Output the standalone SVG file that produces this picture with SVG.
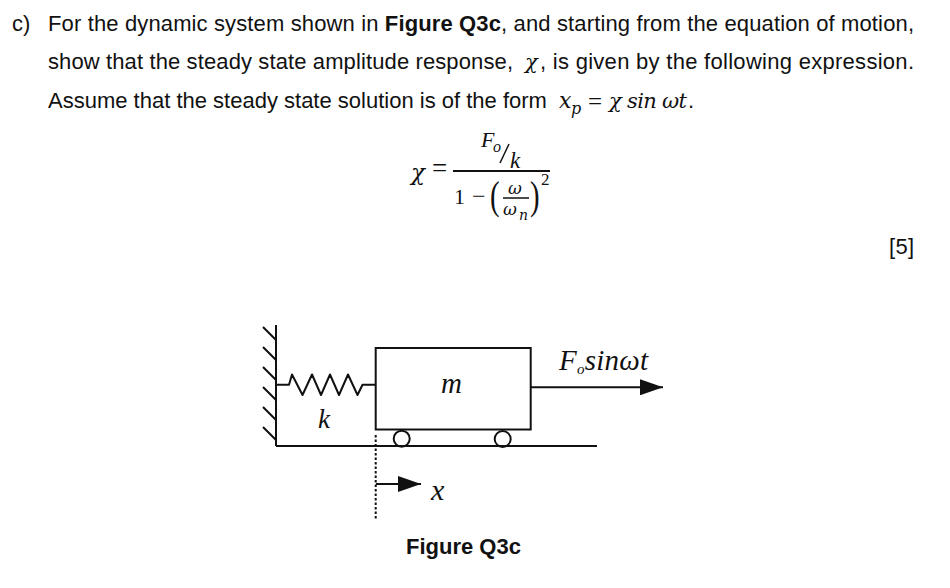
<svg xmlns="http://www.w3.org/2000/svg" width="950" height="588" viewBox="0 0 950 588">
<style>
.t{font-family:"Liberation Sans",Arial,sans-serif;font-size:22px;fill:#111}
.b{font-weight:bold}
.m{font-family:"DejaVu Serif","Liberation Serif",serif;font-style:italic;fill:#111}
.c{font-family:"Liberation Serif",serif;font-style:italic;fill:#111}
.u{font-family:"Liberation Serif",serif;fill:#111}
.l{stroke:#111;fill:none;stroke-width:2}
</style>
<defs>
<marker id="head" markerUnits="userSpaceOnUse" markerWidth="24" markerHeight="16" refX="23" refY="8" orient="auto"><path d="M0 0L23 8L0 16Z" fill="#111"/></marker>
</defs>
<rect width="950" height="588" fill="#fff"/>
<g id="question">
<text class="t" x="12" y="31">c)</text>
<text class="t" x="48" y="31" textLength="866" lengthAdjust="spacing">For the dynamic system shown in <tspan class="b">Figure Q3c</tspan>, and starting from the equation of motion,</text>
<text class="t" x="48" y="69" textLength="465" lengthAdjust="spacing">show that the steady state amplitude response,</text>
<text class="m" x="525" y="69" font-size="21">χ</text>
<text class="t" x="540" y="69" textLength="374" lengthAdjust="spacing">, is given by the following expression.</text>
<text class="t" x="48" y="108">Assume that the steady state solution is of the form</text>
<text class="m" x="559" y="108" font-size="22">x</text>
<text class="m" x="571" y="114" font-size="16">p</text>
<text class="u" x="588" y="110" font-size="25">=</text>
<text class="m" x="609" y="108" font-size="21" textLength="78">χ sin ωt</text>
<text class="t" x="688" y="108">.</text>
<text class="t" x="889" y="254" textLength="25">[5]</text>
</g>
<g id="formula">
<text class="m" x="411" y="180" font-size="23">χ</text>
<text class="u" x="432" y="177" font-size="27">=</text>
<path d="M453 171H550" stroke="#111" stroke-width="2"/>
<text class="c" x="481" y="147" font-size="22">F</text>
<text class="c" x="493" y="152" font-size="16">o</text>
<path d="M509 144L500 163" stroke="#111" stroke-width="1.5"/>
<text class="c" x="510" y="168" font-size="23">k</text>
<text class="u" x="454" y="204" font-size="22">1</text>
<text class="u" x="472" y="204" font-size="24">−</text>
<text class="u" x="490" y="209" font-size="32" transform="translate(490 209) scale(.9 1.25) translate(-490 -209)">(</text>
<text class="m" x="508" y="194" font-size="17">ω</text>
<path d="M503 198H529" stroke="#111" stroke-width="1.5"/>
<text class="m" x="503" y="215" font-size="17">ω</text>
<text class="m" x="519" y="220" font-size="14">n</text>
<text class="u" x="530" y="209" font-size="32" transform="translate(530 209) scale(.9 1.25) translate(-530 -209)">)</text>
<text class="u" x="541" y="185" font-size="17">2</text>
</g>
<g id="wall">
<path class="l" d="M276 325V446M263 327L276 340M263 347L276 360M263 367L276 380M263 387L276 400M263 407L276 420M263 427L276 440"/>
</g>
<g id="ground"><path class="l" d="M276 446H597"/></g>
<g id="mass">
<rect class="l" x="375.7" y="348" width="155" height="81.5"/>
<text class="c" x="441" y="393" font-size="29">m</text>
</g>
<g id="roller1"><circle class="l" cx="401.7" cy="438.7" r="8"/></g>
<g id="roller2"><circle class="l" cx="502.7" cy="439" r="8"/></g>
<g id="connectors">
<path class="l" stroke-linejoin="round" d="M276 384.7H289L292 374.5L302.5 395L312 374.5L321 395L330 374.5L339 395L348 374.5L357.5 395L362.5 384.7H375.7"/>
<path class="l" marker-end="url(#head)" d="M530.7 387.3H663"/>
<path class="l" stroke-dasharray="2.5 2" d="M375.7 435V519"/>
<path class="l" marker-end="url(#head)" d="M376 484H421"/>
</g>
<g id="labels">
<text class="c" x="318" y="428" font-size="27">k</text>
<text class="c" x="431" y="500" font-size="30">x</text>
<text class="c" x="559" y="370" font-size="29" textLength="89" lengthAdjust="spacing">F<tspan font-size="15" dy="4">o</tspan><tspan dy="-4">sinωt</tspan></text>
<text class="t b" x="406" y="554">Figure Q3c</text>
</g>
</svg>
